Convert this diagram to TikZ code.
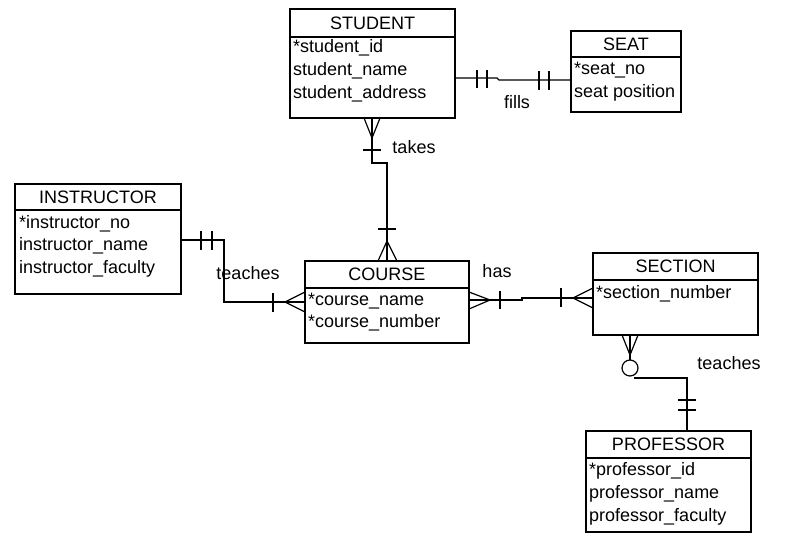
\documentclass[tikz,border=0pt]{standalone}
\usepackage{fontspec}
\setmainfont{Liberation Sans}
\begin{document}
\begin{tikzpicture}[x=1pt,y=-1pt,
  ln/.style={line width=1.2pt},
  bx/.style={draw,line width=1.2pt},
  t/.style={font=\fontsize{18}{21}\selectfont,inner sep=0pt,anchor=west},
  hd/.style={font=\fontsize{18}{21}\selectfont,inner sep=0pt,anchor=center}]
\useasboundingbox (0,0) rectangle (787,558);
\newcommand{\ent}[7]{% name, x1,y1,x2,y2,ylinetitle, title
  \draw[bx] (#2,#3) rectangle (#4,#5);
  \draw[ln] (#2,#6) -- (#4,#6);
  \node[hd] (#1) at ({(#2+#4)/2},{(#3+#6)/2}) {#7};}
% entities
\ent{student}{290}{9}{455}{118}{37}{STUDENT}
\node[t] (s1) at (293,48) {*student\_id};
\node[t] (s2) at (293,71) {student\_name};
\node[t] (s3) at (293,94) {student\_address};
\ent{seat}{571}{31}{681}{112}{57}{SEAT}
\node[t] (e1) at (574,70) {*seat\_no};
\node[t] (e2) at (574,93) {seat position};
\ent{instr}{15}{184}{181}{294}{210}{INSTRUCTOR}
\node[t] (i1) at (19,224) {*instructor\_no};
\node[t] (i2) at (19,246) {instructor\_name};
\node[t] (i3) at (19,269) {instructor\_faculty};
\ent{course}{305}{261}{469}{343}{288}{COURSE}
\node[t] (c1) at (308,301) {*course\_name};
\node[t] (c2) at (308,323) {*course\_number};
\ent{section}{593}{253}{758}{335}{280}{SECTION}
\node[t] (x1) at (596,294) {*section\_number};
\ent{prof}{586}{431}{751}{532}{458}{PROFESSOR}
\node[t] (p1) at (589,471) {*professor\_id};
\node[t] (p2) at (589,494) {professor\_name};
\node[t] (p3) at (589,517) {professor\_faculty};
% labels
\node[hd] (lf) at (517,102) {fills};
\node[hd] (lt) at (414,147) {takes};
\node[hd] (li) at (248,273) {teaches};
\node[hd] (lh) at (497,271) {has};
\node[hd] (lp) at (729,363) {teaches};
% student - seat
\draw[ln] (455,78) -- (497,78) -- (499,80) -- (571,80);
\draw[ln] (477,70)--(477,88) (487,70)--(487,88) (539,71)--(539,90) (549,71)--(549,90);
% student - course
\draw[ln] (372,118) -- (372,163) -- (387,163) -- (387,261);
\draw[ln] (364,118)--(372,138)--(380,118);
\draw[ln] (363,150)--(381,150);
\draw[ln] (378,229)--(396,229);
\draw[ln] (378,261)--(387,241)--(397,261);
% instructor - course
\draw[ln] (181,240) -- (224,240) -- (224,302) -- (305,302);
\draw[ln] (201,231)--(201,250) (212,231)--(212,250) (273,293)--(273,312);
\draw[ln] (305,292)--(285,302)--(305,312);
% course - section
\draw[ln] (469,300) -- (522,300) -- (522,298) -- (593,298);
\draw[ln] (469,292)--(490,300)--(469,309);
\draw[ln] (500,291)--(500,309) (561,288)--(561,307);
\draw[ln] (593,288)--(573,298)--(593,308);
% section - professor
\draw[ln] (622,335)--(630,355)--(638,335);
\draw[ln] (630,335)--(630,360);
\draw[ln] (630,368) circle (8);
\draw[ln] (634,378)--(687,378)--(687,431);
\draw[ln] (678,400)--(696,400) (678,410)--(696,410);
\end{tikzpicture}
\end{document}
